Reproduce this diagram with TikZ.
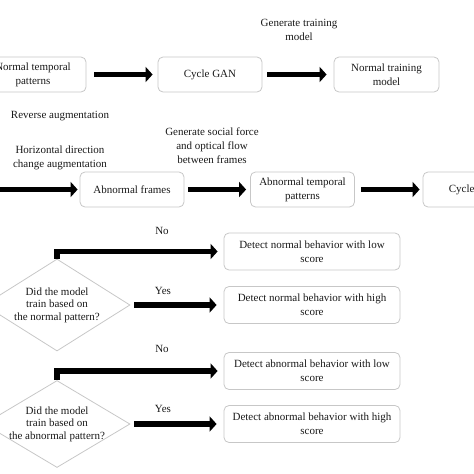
\documentclass[tikz,border=0pt]{standalone}
\usepackage{fontspec}
\setmainfont{Liberation Serif}
\usetikzlibrary{arrows.meta,shapes.geometric}
\begin{document}
\begin{tikzpicture}[x=1pt,y=-1pt,
  box/.style={draw=black!22, line width=0.8pt, rounded corners=5pt, minimum width=104pt, minimum height=35pt, align=center, font=\fontsize{11}{14}\selectfont, text=black!90, inner sep=0pt},
  widebox/.style={box, minimum width=176pt, minimum height=37pt},
  lbl/.style={align=center, font=\fontsize{11}{14}\selectfont, text=black!90, inner sep=0pt},
  decision/.style={diamond, draw=black!22, line width=0.8pt, aspect=1.6, minimum width=146pt, minimum height=92pt, inner sep=-4pt, align=center, font=\fontsize{11}{12.5}\selectfont, text=black!90},
  bigarrow/.style={line width=5.5pt, -{Triangle[length=7pt,width=15pt]}, line join=miter, black}
]
\useasboundingbox (0,0) rectangle (474,474);
% row 1
\node[box, minimum width=106pt] (ntp) at (33,74.5) {Normal temporal\\patterns};
\node[box] (cg1) at (210,74.5) {Cycle GAN};
\node[box, minimum width=105pt] (ntm) at (386.5,74.5) {Normal training\\model};
\node[lbl] (l1) at (299,30) {Generate training\\model};
\draw[bigarrow, shorten <=8pt, shorten >=5pt] (ntp.east) -- (cg1.west);
\draw[bigarrow, shorten <=5pt, shorten >=7pt] (cg1.east) -- (ntm.west);
% labels
\node[lbl] (l2) at (60,116) {Reverse augmentation};
\node[lbl] (l3) at (60,158) {Horizontal direction\\change augmentation};
\node[lbl] (l4) at (212,146) {Generate social force\\and optical flow\\between frames};
% row 2
\coordinate (lin) at (-10,189.5);
\node[box] (af) at (132,189.5) {Abnormal frames};
\node[box] (atp) at (302.5,189.5) {Abnormal temporal\\patterns};
\node[box] (cg2) at (475,189.5) {Cycle GAN};
\draw[bigarrow, shorten >=2pt] (lin) -- (af.west);
\draw[bigarrow, shorten <=4pt, shorten >=4pt] (af.east) -- (atp.west);
\draw[bigarrow, shorten <=6pt, shorten >=3pt] (atp.east) -- (cg2.west);
% decision 1
\node[decision] (d1) at (57,305) {Did the model\\train based on\\the normal pattern?};
\node[widebox] (nlow) at (312,251.5) {Detect normal behavior with low\\score};
\node[widebox] (nhigh) at (312,305) {Detect normal behavior with high\\score};
\draw[bigarrow, shorten >=6pt] (d1.north) |- (nlow.west);
\draw[bigarrow, shorten <=4pt, shorten >=7pt] (d1.east) -- (nhigh.west);
\node[lbl] (no1) at (162,231) {No};
\node[lbl] (yes1) at (163,291) {Yes};
% decision 2
\node[decision, minimum height=87pt] (d2) at (57,424) {Did the model\\train based on\\the abnormal pattern?};
\node[widebox] (alow) at (312,371) {Detect abnormal behavior with low\\score};
\node[widebox] (ahigh) at (312,424) {Detect abnormal behavior with high\\score};
\draw[bigarrow, shorten >=6pt] (d2.north) |- (alow.west);
\draw[bigarrow, shorten <=4pt, shorten >=7pt] (d2.east) -- (ahigh.west);
\node[lbl] (no2) at (162,349) {No};
\node[lbl] (yes2) at (163,409) {Yes};
\end{tikzpicture}
\end{document}
